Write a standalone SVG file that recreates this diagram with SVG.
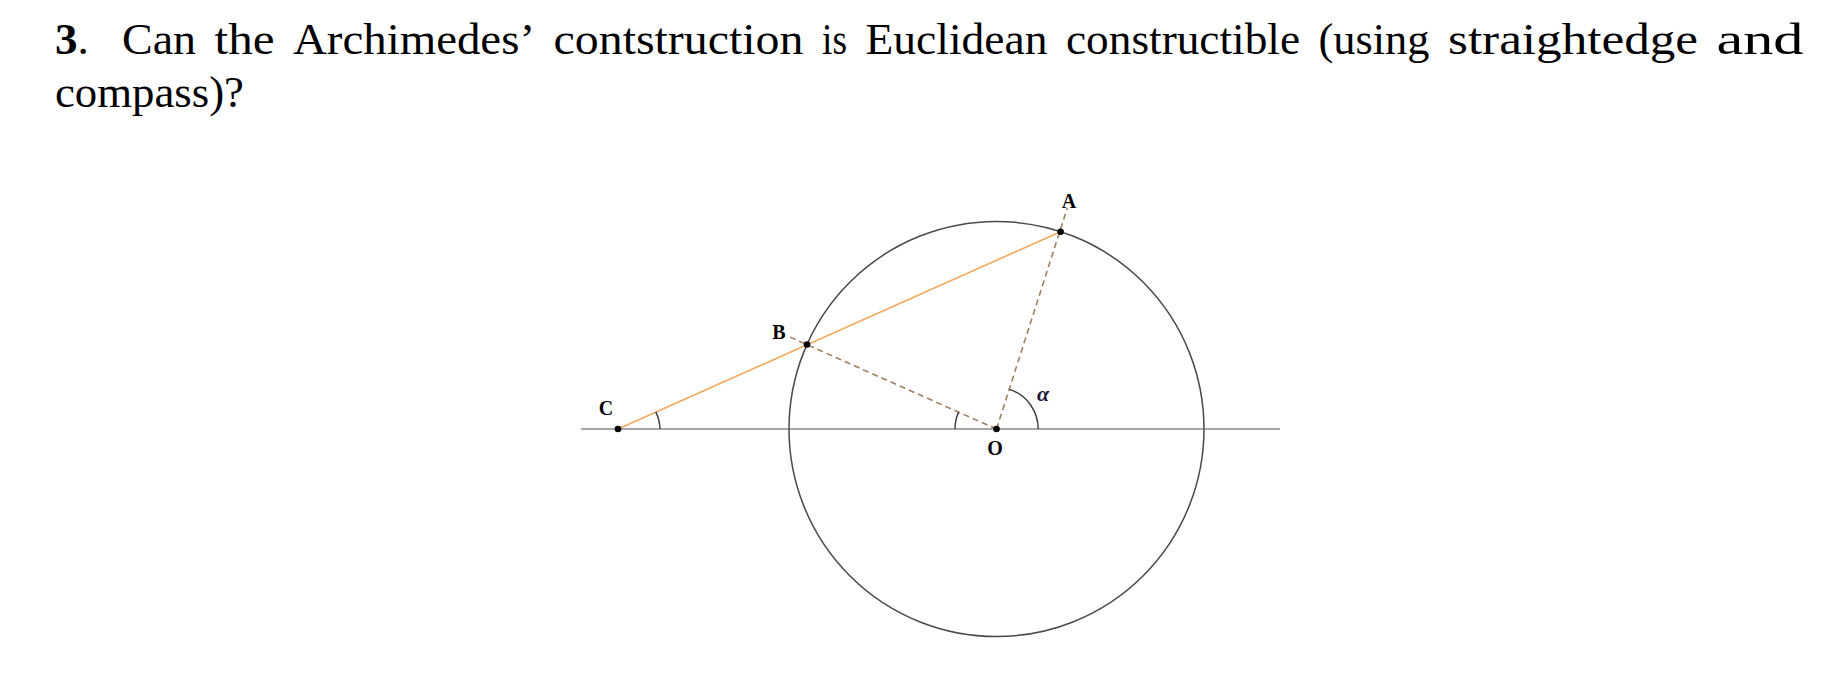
<svg xmlns="http://www.w3.org/2000/svg" width="1838" height="674" viewBox="0 0 1838 674">
<style>
.t{font-family:"Liberation Serif","Times New Roman",serif;font-size:45px;fill:#000}
.lbl{font-family:"Liberation Serif","Times New Roman",serif;font-size:20px;font-weight:bold;fill:#000;text-anchor:middle}
.alpha{font-family:"Liberation Serif","Times New Roman",serif;font-size:22px;font-style:italic;font-weight:bold;fill:#1a1a3a;text-anchor:middle}
.axis{stroke:#8a8a8a;stroke-width:1.5;fill:none}
.circ{stroke:#4a4a4a;stroke-width:1.5;fill:none}
.chord{stroke:#f4a85c;stroke-width:1.6;fill:none}
.dash{stroke:#a0805f;stroke-width:1.6;stroke-dasharray:6 4;fill:none}
.ang{stroke:#3a3a3a;stroke-width:1.4;fill:none}
.dot{fill:#000}
</style>
<rect width="1838" height="674" fill="#fff"/>
<g id="title">
<text class="t" x="55" y="54"><tspan font-weight="bold">3</tspan>.</text>
<text class="t" x="122" y="54" textLength="74" lengthAdjust="spacingAndGlyphs">Can</text>
<text class="t" x="214.5" y="54" textLength="60" lengthAdjust="spacingAndGlyphs">the</text>
<text class="t" x="293" y="54" textLength="242" lengthAdjust="spacingAndGlyphs">Archimedes’</text>
<text class="t" x="553.5" y="54" textLength="250" lengthAdjust="spacingAndGlyphs">contstruction</text>
<text class="t" x="822" y="54" textLength="25" lengthAdjust="spacingAndGlyphs">is</text>
<text class="t" x="865.5" y="54" textLength="182" lengthAdjust="spacingAndGlyphs">Euclidean</text>
<text class="t" x="1066" y="54" textLength="234" lengthAdjust="spacingAndGlyphs">constructible</text>
<text class="t" x="1318.5" y="54" textLength="111" lengthAdjust="spacingAndGlyphs">(using</text>
<text class="t" x="1448" y="54" textLength="250" lengthAdjust="spacingAndGlyphs">straightedge</text>
<text class="t" x="1716.5" y="54" textLength="87" lengthAdjust="spacingAndGlyphs">and</text>
<text class="t" x="55" y="107" textLength="189" lengthAdjust="spacingAndGlyphs">compass)?</text>
</g>
<g id="connectors">
<line class="axis" x1="581" y1="429" x2="1280" y2="429"/>
<line class="dash" x1="996.5" y1="429" x2="1067.3" y2="208"/>
<line class="dash" x1="996.5" y1="429" x2="787.5" y2="336"/>
<line class="chord" x1="618" y1="429" x2="1060.6" y2="231.7"/>
<path class="ang" d="M 660 429 A 42 42 0 0 0 655.8 411.9"/>
<path class="ang" d="M 955 429 A 41.5 41.5 0 0 1 958.6 412.1"/>
<path class="ang" d="M 1038.2 429 A 41.7 41.7 0 0 0 1009.4 389.3"/>
</g>
<g id="circle">
<circle class="circ" cx="996.5" cy="429" r="207.5"/>
</g>
<g id="node-A">
<circle class="dot" cx="1060.6" cy="231.7" r="3.3"/>
<text class="lbl" x="1069" y="208">A</text>
</g>
<g id="node-B">
<circle class="dot" cx="807" cy="344.5" r="3.3"/>
<text class="lbl" x="779" y="339">B</text>
</g>
<g id="node-C">
<circle class="dot" cx="618" cy="429" r="3.3"/>
<text class="lbl" x="606" y="415">C</text>
</g>
<g id="node-O">
<circle class="dot" cx="996.5" cy="429" r="3.3"/>
<text class="lbl" x="995" y="455">O</text>
</g>
<g id="label-alpha">
<text class="alpha" x="1043" y="401">α</text>
</g>
</svg>
